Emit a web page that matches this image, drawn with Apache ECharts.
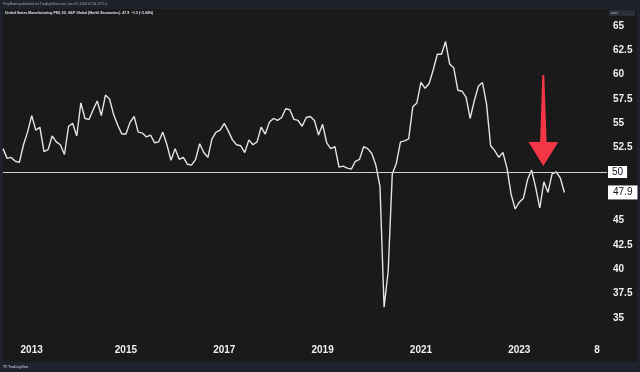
<!DOCTYPE html>
<html><head><meta charset="utf-8">
<script src="https://cdn.jsdelivr.net/npm/echarts@6/dist/echarts.min.js"></script>
<style>html,body{margin:0;padding:0;background:#1a1a1a;}#c{width:640px;height:372px;}</style>
</head><body><div id="c"></div>
<script>
// Monthly S&P Global US Manufacturing PMI as plotted (one month absent in the source series)
const months = [
 '2012-06','2012-07','2012-08','2012-09','2012-10','2012-11','2012-12',
 '2013-01','2013-02','2013-03','2013-04','2013-05','2013-07','2013-08','2013-09','2013-10','2013-11','2013-12',
 '2014-01','2014-02','2014-03','2014-04','2014-05','2014-06','2014-07','2014-08','2014-09','2014-10','2014-11','2014-12',
 '2015-01','2015-02','2015-03','2015-04','2015-05','2015-06','2015-07','2015-08','2015-09','2015-10','2015-11','2015-12',
 '2016-01','2016-02','2016-03','2016-04','2016-05','2016-06','2016-07','2016-08','2016-09','2016-10','2016-11','2016-12',
 '2017-01','2017-02','2017-03','2017-04','2017-05','2017-06','2017-07','2017-08','2017-09','2017-10','2017-11','2017-12',
 '2018-01','2018-02','2018-03','2018-04','2018-05','2018-06','2018-07','2018-08','2018-09','2018-10','2018-11','2018-12',
 '2019-01','2019-02','2019-03','2019-04','2019-05','2019-06','2019-07','2019-08','2019-09','2019-10','2019-11','2019-12',
 '2020-01','2020-02','2020-03','2020-04','2020-05','2020-06','2020-07','2020-08','2020-09','2020-10','2020-11','2020-12',
 '2021-01','2021-02','2021-03','2021-04','2021-05','2021-06','2021-07','2021-08','2021-09','2021-10','2021-11','2021-12',
 '2022-01','2022-02','2022-03','2022-04','2022-05','2022-06','2022-07','2022-08','2022-09','2022-10','2022-11','2022-12',
 '2023-01','2023-02','2023-03','2023-04','2023-05','2023-06','2023-07','2023-08','2023-09','2023-10','2023-11','2023-12'
];
const pmi = [
 52.4, 51.4, 51.5, 51.1, 51.0, 52.8, 54.1,
 55.8, 54.3, 54.6, 52.1, 52.3, 53.7, 53.1, 52.8, 51.8, 54.7, 55.0,
 53.7, 57.1, 55.5, 55.4, 56.4, 57.3, 55.8, 57.9, 57.5, 55.9, 54.8, 53.9,
 53.9, 55.1, 55.7, 54.1, 54.0, 53.6, 53.8, 53.0, 53.1, 54.1, 52.8, 51.2,
 52.4, 51.3, 51.5, 50.8, 50.7, 51.3, 52.9, 52.0, 51.5, 53.4, 54.1, 54.3,
 55.0, 54.2, 53.3, 52.8, 52.7, 52.0, 53.3, 52.8, 53.1, 54.6, 53.9, 55.1,
 55.5, 55.3, 55.6, 56.5, 56.4, 55.4, 55.3, 54.7, 55.6, 55.7, 55.3, 53.8,
 54.9, 53.0, 52.4, 52.6, 50.5, 50.6, 50.4, 50.3, 51.1, 51.3, 52.6, 52.4,
 51.9, 50.7, 48.5, 36.1, 39.8, 49.8, 50.9, 53.1, 53.2, 53.4, 56.7, 57.1,
 59.2, 58.6, 59.1, 60.5, 62.1, 62.1, 63.4, 61.1, 60.7, 58.4, 58.3, 57.7,
 55.5, 57.3, 58.8, 59.2, 57.0, 52.7, 52.2, 51.5, 52.0, 50.4, 47.7, 46.2,
 46.9, 47.3, 49.2, 50.2, 48.4, 46.3, 49.0, 47.9, 49.8, 50.0, 49.4, 47.9
];
const yearLabels = ['2013','2015','2017','2019','2021','2023'];
const refLevel = 50;
const lastValue = 47.9;
const titleText = 'United States Manufacturing PMI, 1D, S&P Global (Markit Economics)  47.9  \u22121.5 (\u22123.04%)';
const publishedText = 'PinpNotes published on TradingView.com, Jan 09, 2024 07:14 UTC-5';

const yearIdx = yearLabels.map(y => months.indexOf(y + '-01'));
const FONT = '"Liberation Sans", Arial, sans-serif';

const boxLabel = (txt, pad) => ({
  show: true, position: 'end', distance: 1, formatter: txt, backgroundColor: '#ffffff', color: '#131722',
  fontSize: 10, fontFamily: FONT, padding: pad, lineHeight: 10
});

const chart = echarts.init(document.getElementById('c'), null, {renderer: 'canvas'});
chart.setOption({
  animation: false,
  backgroundColor: '#1a1a1a',
  grid: {left: 3, right: 33, top: 26, height: 292, containLabel: false, outerBoundsMode: 'none'},
  xAxis: {
    type: 'value', min: 0, max: 147.4,
    axisLine: {show: false}, axisTick: {show: false}, splitLine: {show: false},
    axisLabel: {
      customValues: yearIdx, margin: 27, color: '#f0f0f0', fontSize: 10, fontWeight: 'bold', fontFamily: FONT,
      formatter: v => months[Math.round(v)] ? months[Math.round(v)].slice(0, 4) : ''
    }
  },
  yAxis: {
    type: 'value', position: 'right', min: 35, max: 65, interval: 2.5,
    axisLine: {show: false}, axisTick: {show: false}, splitLine: {show: false},
    axisLabel: {
      margin: 6, color: '#f0f0f0', fontSize: 10, fontWeight: 'bold', fontFamily: FONT,
      formatter: v => (v === 50 || v === 47.5) ? '' : String(v)
    }
  },
  series: [{
    type: 'line',
    data: pmi.map((v, i) => [i, v]),
    showSymbol: false,
    silent: true,
    lineStyle: {color: '#e4e4e4', width: 1.4},
    markLine: {
      silent: true, symbol: ['none', 'none'], animation: false,
      lineStyle: {color: '#cfcfcf', width: 1, type: 'solid'},
      data: [{yAxis: refLevel, label: boxLabel(String(refLevel), [1, 4])}]
    }
  }, {
    type: 'line',
    data: [],
    silent: true,
    markLine: {
      silent: true, symbol: ['none', 'none'], animation: false,
      lineStyle: {color: 'rgba(0,0,0,0)', width: 1, type: 'solid'},
      data: [{yAxis: lastValue, label: boxLabel(String(lastValue), [2, 5])}]
    }
  }],
  graphic: [
    {type: 'rect', shape: {x: 0, y: 0, width: 640, height: 9}, style: {fill: '#1e222d'}, silent: true},
    {type: 'rect', shape: {x: 0, y: 362, width: 640, height: 10}, style: {fill: '#1e222d'}, silent: true},
    {type: 'rect', shape: {x: 0, y: 0, width: 3, height: 372}, style: {fill: '#1e222d'}, silent: true},
    {type: 'rect', shape: {x: 637, y: 0, width: 3, height: 372}, style: {fill: '#1e222d'}, silent: true},
    {type: 'text', style: {text: publishedText, x: 3, y: 4.5, fill: '#a3a6af', font: '3.4px ' + FONT, textVerticalAlign: 'middle', verticalAlign: 'middle'}, silent: true},
    {type: 'text', style: {text: titleText, x: 5, y: 13.5, fill: '#e0e3eb', font: 'bold 3.5px ' + FONT, textVerticalAlign: 'middle', verticalAlign: 'middle'}, silent: true},
    {type: 'rect', shape: {x: 609, y: 10, width: 26, height: 6}, style: {fill: '#2a2e39'}, silent: true},
    {type: 'text', style: {text: 'point', x: 611, y: 13, fill: '#b2b5be', font: '3px ' + FONT, textVerticalAlign: 'middle', verticalAlign: 'middle'}, silent: true},
    {type: 'text', style: {text: '8', x: 597, y: 350.5, fill: '#f0f0f0', font: 'bold 10px ' + FONT, textAlign: 'center', align: 'center', textVerticalAlign: 'middle', verticalAlign: 'middle'}, silent: true},
    {type: 'text', style: {text: 'TV TradingView', x: 3, y: 367, fill: '#b2b5be', font: 'bold 3.4px ' + FONT, textVerticalAlign: 'middle', verticalAlign: 'middle'}, silent: true},
    {type: 'polygon', shape: {points: [[542.3, 75], [544.3, 75], [546.6, 142], [558.3, 142], [543.3, 166], [528.5, 142], [540.1, 142]]},
     style: {fill: '#f23645'}, silent: true}
  ]
});
</script></body></html>
